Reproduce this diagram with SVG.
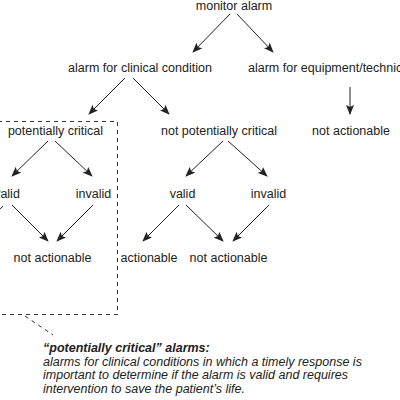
<svg xmlns="http://www.w3.org/2000/svg" width="400" height="400" viewBox="0 0 400 400">
<style>
  text { font-family: "Liberation Sans", Arial, sans-serif; font-size: 12.5px; fill: #222; }
  .c { text-anchor: middle; }
  .note { font-style: italic; }
  .b { font-weight: bold; }
  .edge { stroke: #222; stroke-width: 1; fill: none; marker-end: url(#ah); }
  .dash { stroke: #333; stroke-width: 1; fill: none; stroke-dasharray: 4 4; }
</style>
<defs>
  <marker id="ah" markerUnits="userSpaceOnUse" markerWidth="10" markerHeight="8" refX="9" refY="4" orient="auto">
    <path d="M0,0 L10,4 L0,8 L2,4 z" fill="#222"/>
  </marker>
</defs>
<rect width="400" height="400" fill="#fff"/>

<g id="connectors">
  <line class="edge" x1="230" y1="14" x2="193" y2="52"/>
  <line class="edge" x1="237" y1="14" x2="273" y2="52"/>
  <line class="edge" x1="350" y1="87" x2="350" y2="114"/>
  <line class="edge" x1="125" y1="78" x2="89" y2="114"/>
  <line class="edge" x1="133" y1="78" x2="169" y2="114"/>
  <line class="edge" x1="48" y1="141" x2="12" y2="176"/>
  <line class="edge" x1="55" y1="141" x2="92" y2="176"/>
  <line class="edge" x1="12" y1="205" x2="48" y2="241"/>
  <line class="edge" x1="93" y1="205" x2="57" y2="241"/>
  <line class="edge" x1="3" y1="206" x2="-30" y2="240"/>
  <line class="edge" x1="223" y1="141" x2="186" y2="176"/>
  <line class="edge" x1="228" y1="141" x2="267" y2="176"/>
  <line class="edge" x1="179" y1="205" x2="143" y2="241"/>
  <line class="edge" x1="186" y1="205" x2="223" y2="241"/>
  <line class="edge" x1="269" y1="205" x2="233" y2="241"/>
</g>

<g id="box-potentially-critical">
  <polyline class="dash" points="-2,121.5 117.5,121.5 117.5,314.5 -2,314.5"/>
  <line class="dash" x1="25" y1="316" x2="53" y2="335" stroke-dasharray="3 5"/>
</g>

<g id="n-monitor"><text class="c" x="234" y="10">monitor alarm</text></g>
<g id="n-clinical"><text class="c" x="140" y="72">alarm for clinical condition</text></g>
<g id="n-equipment"><text x="248" y="72">alarm for equipment/technical</text></g>
<g id="n-na-equip"><text class="c" x="351" y="135">not actionable</text></g>
<g id="n-pc"><text class="c" x="55.5" y="135">potentially critical</text></g>
<g id="n-npc"><text class="c" x="219" y="135">not potentially critical</text></g>
<g id="n-valid1"><text class="c" x="7" y="198">valid</text></g>
<g id="n-invalid1"><text class="c" x="93.5" y="198">invalid</text></g>
<g id="n-na1"><text class="c" x="52.5" y="262">not actionable</text></g>
<g id="n-valid2"><text class="c" x="182.5" y="198">valid</text></g>
<g id="n-invalid2"><text class="c" x="268.5" y="198">invalid</text></g>
<g id="n-act"><text class="c" x="149" y="262">actionable</text></g>
<g id="n-na2"><text class="c" x="228.5" y="262">not actionable</text></g>

<g id="note">
  <text class="note b" x="43" y="352">“potentially critical” alarms:</text>
  <text class="note" x="43" y="365.5">alarms for clinical conditions in which a timely response is</text>
  <text class="note" x="43" y="379">important to determine if the alarm is valid and requires</text>
  <text class="note" x="43" y="392.5">intervention to save the patient’s life.</text>
</g>
</svg>
